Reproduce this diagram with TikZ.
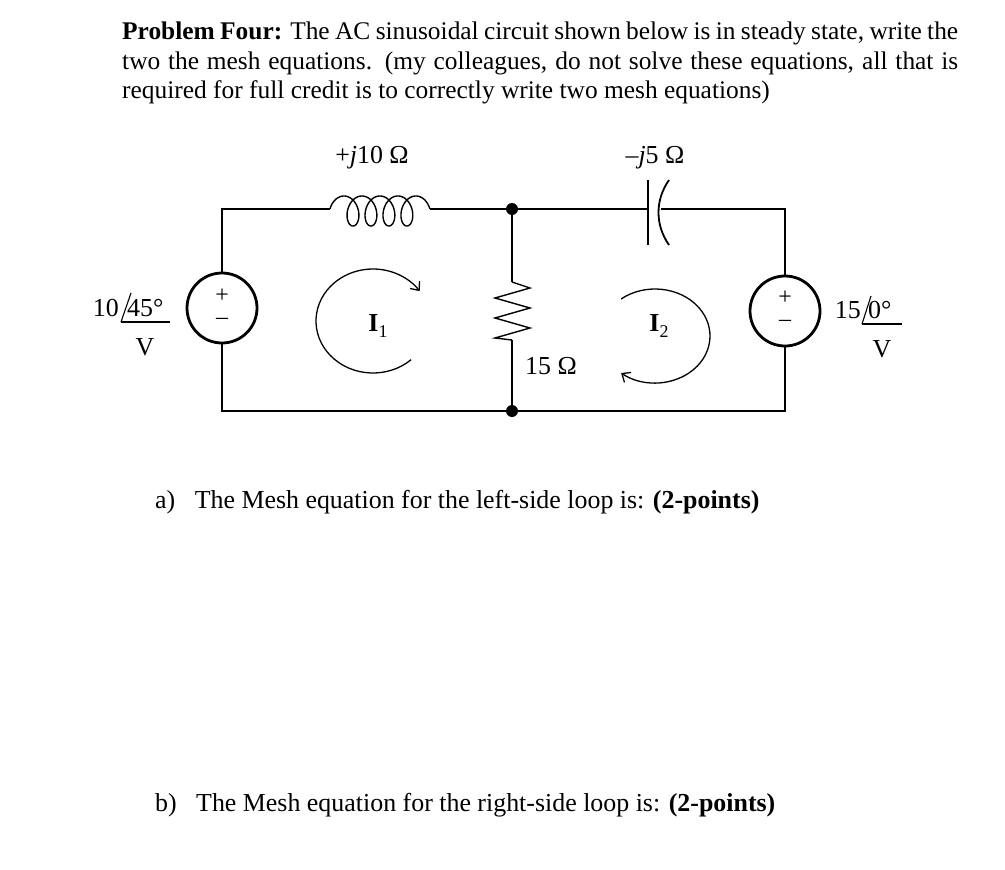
\documentclass[tikz,border=0pt]{standalone}
\usepackage{fontspec}
\setmainfont{Liberation Serif}
\usetikzlibrary{calc,arrows.meta}
\begin{document}
\begin{tikzpicture}[x=1bp,y=-1bp,
  wire/.style={line width=1.4bp},
  src/.style={circle,draw,line width=2.8bp,minimum size=70bp,inner sep=0pt},
  lbl/.style={font=\fontsize{26}{30}\selectfont,inner sep=0pt},
  sgn/.style={font=\fontsize{24}{28}\selectfont,inner sep=0pt},
  dotn/.style={circle,fill,inner sep=0pt,minimum size=12bp},
  loopar/.style={line width=1.3bp,-{Straight Barb[length=7bp,width=12bp]}}]
\useasboundingbox (0,0) rectangle (1005,870);
\node[anchor=north west,text width=836bp,align=justify,inner sep=0pt,font=\fontsize{25.5}{29.5}\selectfont] (hdr) at (122,22)
 {\textbf{Problem Four:} The AC sinusoidal circuit shown below is in steady state, write the two the mesh equations. (my colleagues, do not solve these equations, all that is required for full credit is to correctly write two mesh equations)};
% nodes
\node[src] (vs1) at (222,308) {};
\node[src] (vs2) at (785,311) {};
\node[dotn] (ntop) at (512,209) {};
\node[dotn] (nbot) at (512,411) {};
\coordinate (tl) at (222,209); \coordinate (bl) at (222,411);
\coordinate (tr) at (785,209); \coordinate (br) at (785,411);
\coordinate (l1) at (330,209); \coordinate (l2) at (430,209);
\coordinate (c1) at (648,209); \coordinate (c2) at (661,209);
\coordinate (r1) at (512,282); \coordinate (r2) at (512,340);
% wires
\draw[wire] (vs1.north) -- (tl) -- (l1);
\draw[wire] (l2) -- (ntop) -- (c1);
\draw[wire] (c2) -- (tr) -- (vs2.north);
\draw[wire] (vs2.south) -- (br) -- (nbot) -- (bl) -- (vs1.south);
\draw[wire] (ntop) -- (r1);
\draw[wire] (r2) -- (nbot);
% resistor
\draw[wire,line join=miter] (r1) -- ++(18,6) -- ++(-35,10) -- ++(35,10) -- ++(-35,10) -- ++(35,10) -- ++(-35,10) -- (r2);
% inductor
\draw[wire] plot[domain=98:1702,samples=400,smooth] ({335+2.86*rad(\x)-10*sin(\x)},{226-15*(1-cos(\x))});
% capacitor
\draw[line width=1.8bp] (648,180) -- (648,245);
\draw[line width=1.8bp] (669,180) .. controls (655,200) and (655,225) .. (669,245);
% source signs
\node[sgn] (p1) at ($(vs1)+(0,-12)$) {+};
\node[sgn] (m1) at ($(vs1)+(0,13)$) {\textendash};
\node[sgn] (p2) at ($(vs2)+(0,-13)$) {+};
\node[sgn] (m2) at ($(vs2)+(0,12)$) {\textendash};
% labels
\node[lbl] (lL) at (372,158) {+\textit{j}10 Ω};
\node[lbl] (lC) at (655,158) {\textendash\textit{j}5 Ω};
\node[lbl] (lR) at (551,366) {15 Ω};
\node[lbl] (i1) at (378,326) {\textbf{I}\raisebox{-0.25em}{\fontsize{18}{20}\selectfont 1}};
\node[lbl] (i2) at (659,326) {\textbf{I}\raisebox{-0.25em}{\fontsize{18}{20}\selectfont 2}};
% loop arrows
\draw[loopar] (373,321) ++(48:57 and 52) arc[start angle=48,end angle=325,x radius=57,y radius=52];
\draw[loopar] (655,336) ++(-128:55 and 47) arc[start angle=-128,end angle=128,x radius=55,y radius=47];
% phasor labels
\node[lbl,anchor=base east] (v1a) at (119,316) {10};
\draw[line width=1.1bp] (121,322) -- (131,293);
\draw[line width=1.1bp] (121,322) -- (170,322);
\node[lbl,anchor=base west] (v1b) at (127,316) {45°};
\node[lbl] (v1c) at (145,347) {V};
\node[lbl,anchor=base east] (v2a) at (861,318) {15};
\draw[line width=1.1bp] (862,324) -- (871,296);
\draw[line width=1.1bp] (862,324) -- (902,324);
\node[lbl,anchor=base west] (v2b) at (868,318) {0°};
\node[lbl] (v2c) at (882,349) {V};
% questions
\node[lbl,anchor=base west] (qa) at (155,508) {a)\hspace{0.5em} The Mesh equation for the left-side loop is: \textbf{(2-points)}};
\node[lbl,anchor=base west] (qb) at (155,811) {b)\hspace{0.5em} The Mesh equation for the right-side loop is: \textbf{(2-points)}};
\end{tikzpicture}
\end{document}
